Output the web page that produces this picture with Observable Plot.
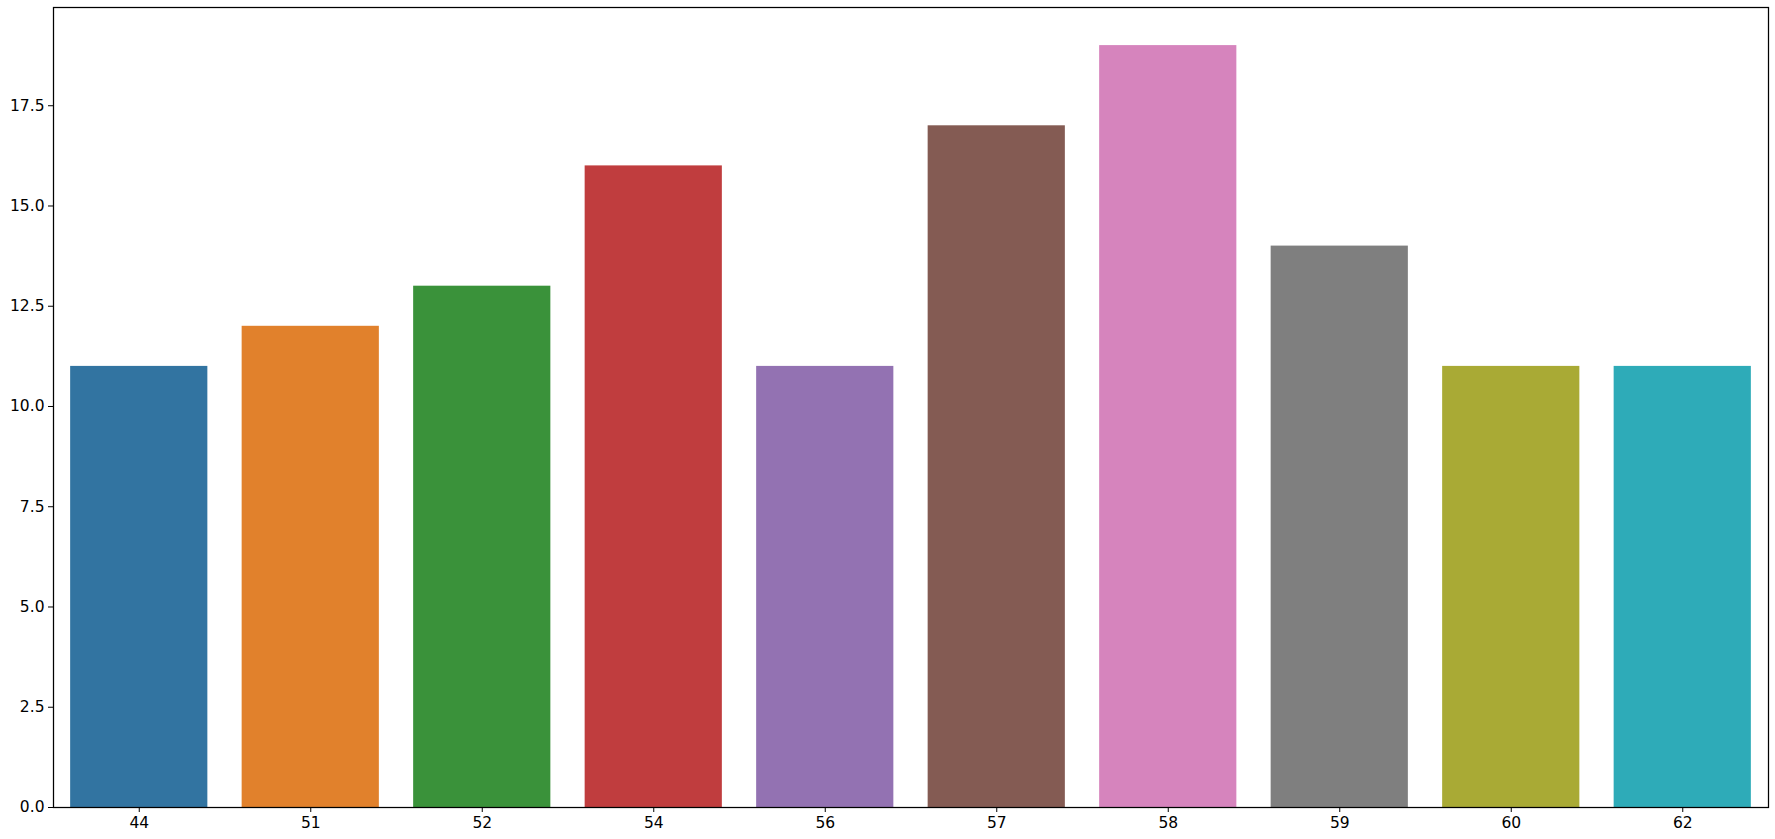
<!DOCTYPE html>
<html>
<head>
<meta charset="utf-8">
<script src="https://cdn.jsdelivr.net/npm/d3@7"></script>
<script src="https://cdn.jsdelivr.net/npm/@observablehq/plot@0.6"></script>
<style>
  html, body { margin: 0; padding: 0; background: #fff; }
  svg { display: block; }
  svg text { font-family: "DejaVu Sans", sans-serif !important; font-size: 15.5px !important; fill: #000; }
</style>
</head>
<body>
<div id="chart"></div>
<script>
const categories = ["44", "51", "52", "54", "56", "57", "58", "59", "60", "62"];
const counts = [11, 12, 13, 16, 11, 17, 19, 14, 11, 11];
const colors = ["#3274a1", "#e1812c", "#3a923a", "#c03d3e", "#9372b2", "#845b53", "#d684bd", "#7f7f7f", "#a9aa35", "#2eabb8"];
const yTicks = [0, 2.5, 5, 7.5, 10, 12.5, 15, 17.5];

const data = categories.map((c, i) => ({cat: c, value: counts[i], color: colors[i]}));

const chart = Plot.plot({
  width: 1775,
  height: 839,
  marginLeft: 53,
  marginRight: 7,
  marginTop: 7,
  marginBottom: 32,
  style: {fontFamily: "DejaVu Sans", fontSize: "15.5px", color: "#000", background: "#fff"},
  x: {type: "band", domain: categories, paddingInner: 0.2, paddingOuter: 0.1, round: false, label: null},
  y: {domain: [0, 19.95], label: null},
  marks: [
    Plot.barY(data, {x: "cat", y: "value", fill: "color"}),
    Plot.axisX({tickSize: 5, tickPadding: 4, label: null}),
    Plot.axisY({ticks: yTicks, tickFormat: d3.format(".1f"), tickSize: 5, tickPadding: 4, label: null}),
    Plot.frame({stroke: "#000", strokeWidth: 1.25})
  ]
});
document.getElementById("chart").appendChild(chart);
</script>
</body>
</html>
